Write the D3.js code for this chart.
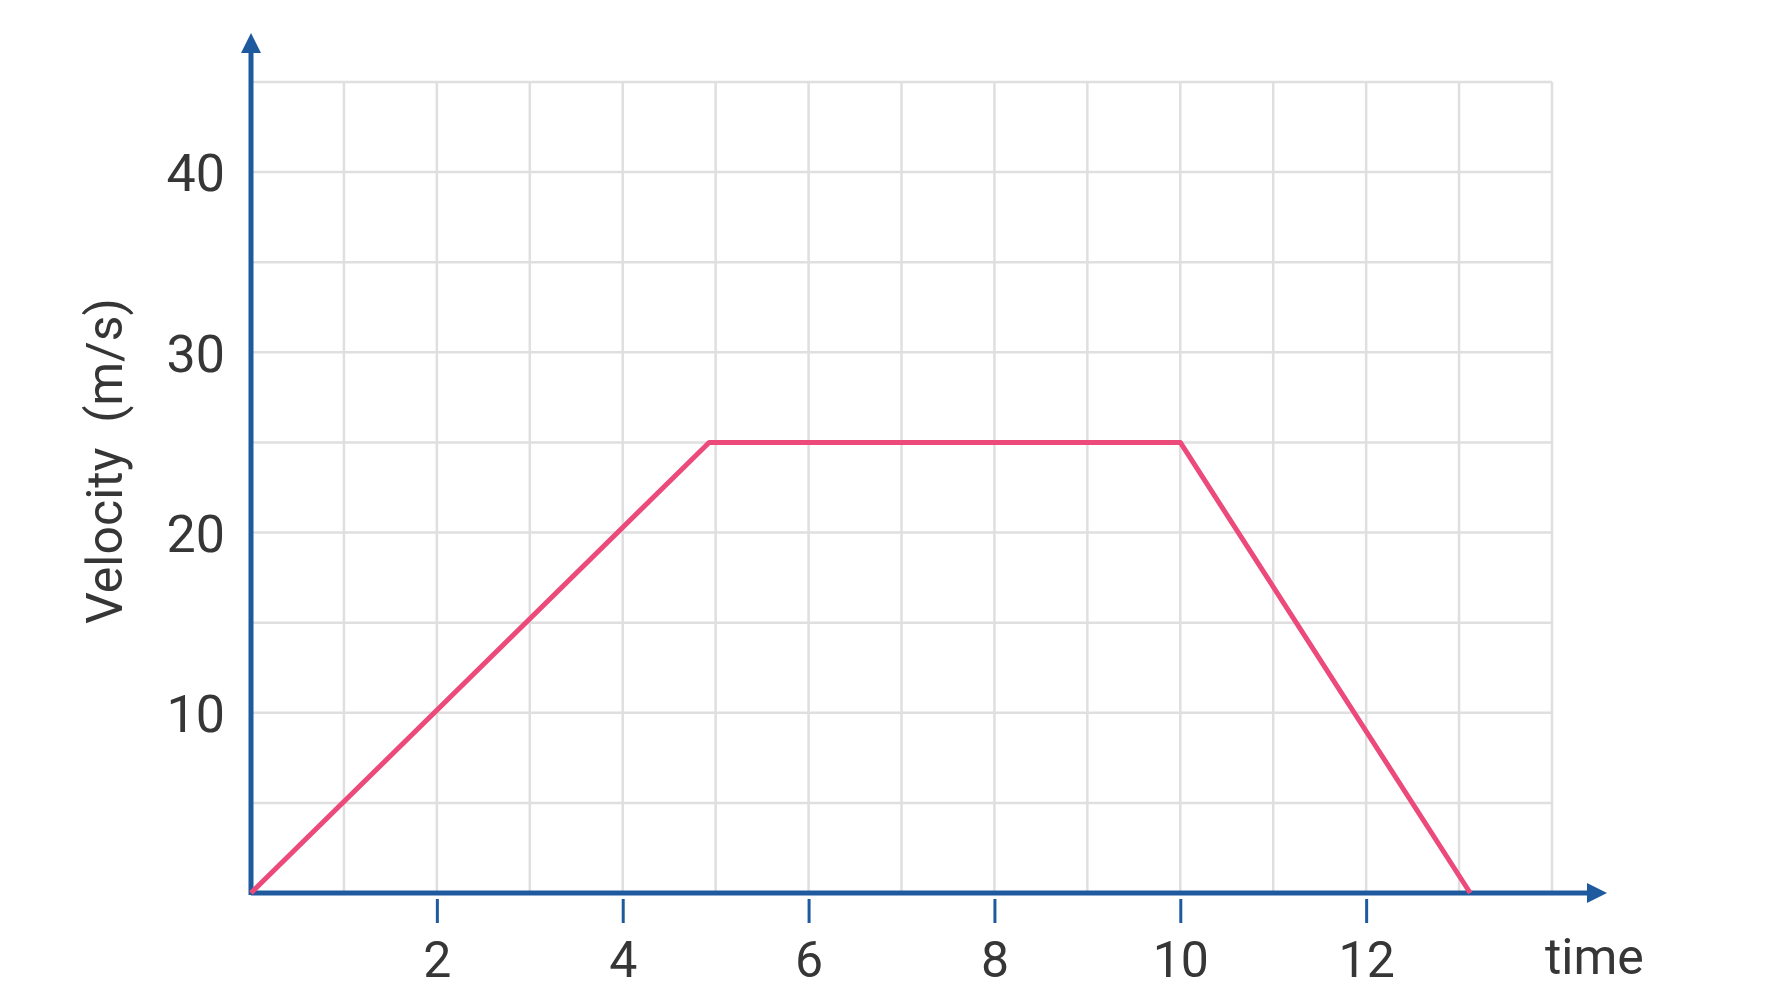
<!DOCTYPE html>
<html>
<head>
<meta charset="utf-8">
<script src="https://cdn.jsdelivr.net/npm/d3@7"></script>
<style>
  body { margin: 0; background: #fff; }
  svg text { font-family: Roboto, "Noto Sans", sans-serif; fill: #363636; }
</style>
</head>
<body>
<div id="chart-area"></div>
<script>
const timeValues = [0, 4.93, 10, 13.12];
const velocityValues = [0, 25, 25, 0];
const xTickValues = [2, 4, 6, 8, 10, 12];
const yTickValues = [10, 20, 30, 40];
const xLabel = 'time';
const yLabel = 'Velocity\u00a0\u00a0(m/s)';

const drawChart = () => {
  const chartSize = { width: 1788, height: 990 };
  const margin = { left: 251, right: 236, top: 82, bottom: 97 };
  const width = chartSize.width - margin.left - margin.right;
  const height = chartSize.height - margin.top - margin.bottom;
  const axisColor = '#1f5a9e';

  const svg = d3.select('#chart-area').append('svg')
    .attr('width', chartSize.width)
    .attr('height', chartSize.height);

  const g = svg.append('g')
    .attr('transform', `translate(${margin.left},${margin.top})`);

  const x = d3.scaleLinear().domain([0, 14]).range([0, width]);
  const y = d3.scaleLinear().domain([0, 45]).range([height, 0]);

  // grid
  g.append('g').selectAll('line')
    .data(x.ticks(14).slice(1))
    .enter().append('line')
    .attr('x1', d => x(d)).attr('x2', d => x(d))
    .attr('y1', 0).attr('y2', height)
    .attr('stroke', '#dfdfdf').attr('stroke-width', 2.5);

  g.append('g').selectAll('line')
    .data(d3.range(5, 46, 5))
    .enter().append('line')
    .attr('x1', 2).attr('x2', width)
    .attr('y1', d => y(d)).attr('y2', d => y(d))
    .attr('stroke', '#dfdfdf').attr('stroke-width', 2.5);

  // x ticks + labels
  const xAxis = d3.axisBottom(x)
    .tickValues(xTickValues)
    .tickSize(30)
    .tickPadding(20)
    .tickFormat(d3.format('d'));

  const xg = g.append('g')
    .attr('transform', `translate(0,${height})`)
    .call(xAxis);
  xg.select('.domain').remove();
  xg.selectAll('.tick line')
    .attr('stroke', axisColor).attr('stroke-width', 3).attr('y1', 6);
  xg.selectAll('.tick text')
    .attr('y', 84).attr('dy', 0)
    .style('font-size', '50px').style('fill', '#363636');

  // y labels
  const yAxis = d3.axisLeft(y)
    .tickValues(yTickValues)
    .tickSize(0)
    .tickPadding(26);
  const yg = g.append('g').call(yAxis);
  yg.select('.domain').remove();
  yg.selectAll('.tick text')
    .attr('dy', '0.36em')
    .style('font-size', '52px').style('fill', '#363636');

  // axes with arrows
  g.append('line')
    .attr('x1', x(0)).attr('x2', x(14) + 40)
    .attr('y1', y(0)).attr('y2', y(0))
    .attr('stroke', axisColor).attr('stroke-width', 5);
  g.append('path')
    .attr('d', `M${x(14) + 55},${y(0)} L${x(14) + 35},${y(0) - 10} L${x(14) + 35},${y(0) + 10} Z`)
    .attr('fill', axisColor);

  g.append('line')
    .attr('x1', x(0)).attr('x2', x(0))
    .attr('y1', y(0) + 2).attr('y2', y(45) - 34)
    .attr('stroke', axisColor).attr('stroke-width', 5);
  g.append('path')
    .attr('d', `M${x(0)},${y(45) - 49} L${x(0) - 10},${y(45) - 29} L${x(0) + 10},${y(45) - 29} Z`)
    .attr('fill', axisColor);

  // velocity line
  const points = timeValues.map((t, i) => [t, velocityValues[i]]);
  const line = d3.line().x(d => x(d[0])).y(d => y(d[1]));
  g.append('path')
    .datum(points)
    .attr('d', line)
    .attr('fill', 'none')
    .attr('stroke', '#eb4a7b')
    .attr('stroke-width', 5)
    .attr('stroke-linejoin', 'round');

  // axis labels
  g.append('text')
    .attr('x', x(14) - 7)
    .attr('y', height + 81)
    .style('font-size', '50px')
    .text(xLabel);

  g.append('text')
    .attr('transform', `translate(${122 - margin.left},${461 - margin.top}) rotate(-90)`)
    .attr('text-anchor', 'middle')
    .style('font-size', '50px')
    .text(yLabel);
};

window.onload = drawChart;
</script>
</body>
</html>
